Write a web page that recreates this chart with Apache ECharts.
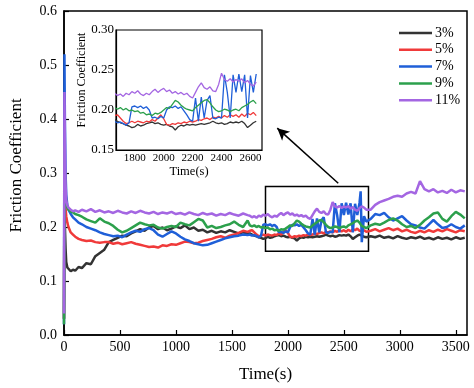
<!DOCTYPE html>
<html>
<head>
<meta charset="utf-8">
<script src="https://cdn.jsdelivr.net/npm/echarts@6/dist/echarts.min.js"></script>
<style>html,body{margin:0;padding:0;background:#fff;}#c{width:474px;height:388px;}</style>
</head>
<body>
<div id="c"></div>
<script>
// ---- data ----
const seriesNames = ['3%', '5%', '7%', '9%', '11%'];
const colors = ['#333333', '#f03a3a', '#1f5fd8', '#2ca04c', '#a466e2'];

const time = [
  0, 4, 8, 14, 20, 30, 40, 60, 80, 100, 130, 160, 200, 240, 280, 320, 360,
  400, 440, 480, 520, 560, 600, 640, 680, 720, 760, 800, 840, 880, 920, 960, 1000,
  1040, 1080, 1120, 1160, 1200, 1240, 1280, 1320, 1360, 1400, 1440, 1480, 1520, 1560, 1600, 1640,
  1660, 1680, 1700, 1720, 1740, 1760, 1780, 1800, 1820, 1840, 1860, 1880, 1900, 1920, 1940, 1960,
  1980, 2000, 2020, 2040, 2060, 2080, 2100, 2120, 2140, 2160, 2180, 2200, 2220, 2240, 2260, 2280,
  2300, 2320, 2340, 2360, 2380, 2400, 2420, 2440, 2460, 2480, 2500, 2520, 2540, 2560, 2580, 2600,
  2620, 2640, 2650, 2660, 2680, 2700,
  2740, 2780, 2820, 2860, 2900, 2940, 2980, 3020, 3060, 3100, 3140, 3180, 3220, 3260, 3300, 3340,
  3380, 3420, 3460, 3500, 3540, 3580
];

const cof3 = [
  0.03, 0.25, 0.2, 0.16, 0.135, 0.125, 0.122, 0.118, 0.121, 0.119, 0.126, 0.124, 0.133, 0.131, 0.146, 0.152, 0.158,
  0.172, 0.176, 0.18, 0.184, 0.183, 0.188, 0.192, 0.196, 0.193, 0.199, 0.202, 0.196, 0.199, 0.194, 0.197, 0.201,
  0.198, 0.203, 0.196, 0.199, 0.193, 0.195, 0.19, 0.193, 0.189, 0.192, 0.19, 0.194, 0.191, 0.188, 0.19, 0.188,
  0.188, 0.186, 0.184, 0.183, 0.181, 0.18, 0.178, 0.179, 0.182, 0.18, 0.181, 0.183, 0.184, 0.185, 0.183, 0.184,
  0.182, 0.181, 0.182, 0.18, 0.179, 0.175, 0.179, 0.181, 0.18, 0.182, 0.181, 0.182, 0.181, 0.182, 0.183, 0.182,
  0.183, 0.184, 0.186, 0.184, 0.183, 0.184, 0.182, 0.183, 0.185, 0.184, 0.185, 0.184, 0.186, 0.183, 0.178, 0.181,
  0.184, 0.186, 0.185, 0.184, 0.182, 0.181,
  0.183, 0.181, 0.184, 0.18, 0.182, 0.179, 0.183, 0.18, 0.178, 0.181, 0.179, 0.182, 0.178, 0.18, 0.177, 0.181,
  0.178, 0.18, 0.177, 0.181, 0.178, 0.18
];

const cof5 = [
  0.03, 0.3, 0.26, 0.235, 0.22, 0.208, 0.2, 0.19, 0.186, 0.182, 0.178, 0.176, 0.174, 0.175, 0.172, 0.171, 0.172,
  0.172, 0.169, 0.171, 0.168, 0.17, 0.172, 0.169, 0.167, 0.165, 0.163, 0.164, 0.162, 0.166, 0.165, 0.168, 0.167,
  0.17, 0.173, 0.172, 0.17, 0.171, 0.174, 0.176, 0.178, 0.181, 0.183, 0.18, 0.184, 0.186, 0.189, 0.193, 0.191,
  0.193, 0.194, 0.19, 0.186, 0.183, 0.184, 0.186, 0.184, 0.186, 0.185, 0.184, 0.186, 0.185, 0.188, 0.186, 0.19,
  0.194, 0.189, 0.182, 0.181, 0.183, 0.182, 0.184, 0.183, 0.185, 0.184, 0.186, 0.185, 0.186, 0.188, 0.187, 0.189,
  0.19, 0.188, 0.191, 0.19, 0.192, 0.19, 0.193, 0.191, 0.194, 0.192, 0.194, 0.191, 0.195, 0.192, 0.196, 0.194,
  0.197, 0.193, 0.195, 0.192, 0.194, 0.191,
  0.193, 0.196, 0.192, 0.195, 0.198, 0.194, 0.197, 0.192, 0.195, 0.191, 0.189, 0.193, 0.19, 0.194, 0.191, 0.195,
  0.192, 0.196, 0.193, 0.19, 0.194, 0.192
];

const cof7 = [
  0.02, 0.52, 0.4, 0.3, 0.26, 0.24, 0.232, 0.224, 0.218, 0.214, 0.208, 0.205, 0.2, 0.197, 0.194, 0.19, 0.187,
  0.185, 0.183, 0.184, 0.181, 0.186, 0.19, 0.193, 0.191, 0.196, 0.198, 0.194, 0.186, 0.182, 0.187, 0.192, 0.188,
  0.182, 0.177, 0.174, 0.17, 0.168, 0.166, 0.167, 0.17, 0.173, 0.176, 0.179, 0.181, 0.183, 0.184, 0.186, 0.185,
  0.186, 0.184, 0.185, 0.183, 0.181, 0.184, 0.204, 0.205, 0.203, 0.205, 0.202, 0.204, 0.2, 0.19, 0.191, 0.189,
  0.192, 0.19, 0.2, 0.204, 0.203, 0.205, 0.202, 0.204, 0.199, 0.194, 0.188, 0.186, 0.215, 0.186, 0.216, 0.19,
  0.212, 0.218, 0.19, 0.189, 0.191, 0.19, 0.244, 0.222, 0.19, 0.244, 0.222, 0.245, 0.223, 0.244, 0.19, 0.243,
  0.222, 0.245, 0.266, 0.172, 0.22, 0.21,
  0.215, 0.224, 0.222, 0.226, 0.218, 0.212, 0.216, 0.22, 0.212, 0.205, 0.203, 0.199, 0.197, 0.205, 0.213, 0.205,
  0.198, 0.2, 0.205, 0.2, 0.197, 0.203
];

const cof9 = [
  0.02, 0.35, 0.3, 0.26, 0.245, 0.236, 0.232, 0.229, 0.227, 0.224, 0.222, 0.219, 0.214, 0.211, 0.208, 0.216, 0.21,
  0.207, 0.202, 0.195, 0.19, 0.193, 0.198, 0.203, 0.208, 0.205, 0.203, 0.204, 0.199, 0.197, 0.2, 0.202, 0.2,
  0.208, 0.205, 0.203, 0.209, 0.215, 0.212, 0.199, 0.202, 0.198, 0.2, 0.203, 0.205, 0.21, 0.204, 0.2, 0.212,
  0.203, 0.201, 0.203, 0.2, 0.202, 0.199, 0.2, 0.198, 0.199, 0.196, 0.197, 0.194, 0.195, 0.193, 0.196, 0.195,
  0.197, 0.2, 0.203, 0.202, 0.207, 0.212, 0.21, 0.206, 0.203, 0.201, 0.2, 0.199, 0.203, 0.206, 0.209, 0.212,
  0.213, 0.209, 0.204, 0.2, 0.198, 0.199, 0.201, 0.2, 0.198, 0.2, 0.201, 0.199, 0.203, 0.205, 0.207, 0.21,
  0.212, 0.208, 0.205, 0.202, 0.2, 0.198,
  0.203, 0.206, 0.204, 0.208, 0.213, 0.216, 0.212, 0.205, 0.2, 0.202, 0.198, 0.204, 0.212, 0.218, 0.225, 0.227,
  0.215, 0.21, 0.22, 0.228, 0.223, 0.216
];

const cof11 = [
  0.04, 0.45, 0.36, 0.28, 0.25, 0.24, 0.236, 0.232, 0.229, 0.231, 0.228, 0.232, 0.229, 0.233, 0.228, 0.231, 0.227,
  0.229, 0.226, 0.23, 0.227, 0.225, 0.229, 0.226, 0.23, 0.227, 0.225, 0.228, 0.224, 0.227, 0.225, 0.228, 0.224,
  0.226, 0.223, 0.227, 0.224, 0.222, 0.226, 0.223, 0.225, 0.221, 0.224, 0.222, 0.226, 0.223, 0.221, 0.225, 0.222,
  0.221, 0.218, 0.22, 0.217, 0.221, 0.219, 0.223, 0.221, 0.224, 0.22, 0.218, 0.221, 0.219, 0.223, 0.226, 0.222,
  0.225, 0.227, 0.223, 0.225, 0.221, 0.223, 0.22, 0.222, 0.219, 0.221, 0.217, 0.215, 0.222, 0.229, 0.234, 0.228,
  0.226, 0.229, 0.224, 0.223, 0.232, 0.246, 0.238, 0.236, 0.239, 0.235, 0.238, 0.236, 0.239, 0.234, 0.237, 0.232,
  0.23, 0.235, 0.237, 0.238, 0.236, 0.232,
  0.232, 0.241, 0.246, 0.249, 0.252, 0.256, 0.258, 0.256, 0.262, 0.265, 0.262, 0.285, 0.27, 0.266, 0.27, 0.264,
  0.267, 0.263, 0.269, 0.264, 0.268, 0.266
];

const mainXMax = 3600;
const insetXTicks = [1800, 2000, 2200, 2400, 2600];
const zoomBox = [[1800, 0.155], [2720, 0.275]];
const arrowFromTo = [[2450, 0.281], [1905, 0.383]];
const insetDataEnd = 2645;

// ---- build ----
const allValues = [cof3, cof5, cof7, cof9, cof11];
const FONT = '"Liberation Serif", "Times New Roman", serif';

function pairs(vals, maxT) {
  const out = [];
  for (let i = 0; i < time.length; i++) {
    if (maxT === undefined || time[i] <= maxT) out.push([time[i], vals[i]]);
  }
  return out;
}

const series = [];
allValues.forEach((vals, k) => {
  series.push({
    name: seriesNames[k], type: 'line', xAxisIndex: 0, yAxisIndex: 0,
    data: pairs(vals), symbol: 'none', smooth: false,
    lineStyle: { color: colors[k], width: 2.5 }, itemStyle: { color: colors[k] },
    z: 2 + k, animation: false
  });
});
series.push({
  type: 'line', xAxisIndex: 0, yAxisIndex: 0, data: [], silent: true, animation: false,
  markArea: {
    silent: true,
    itemStyle: { color: 'rgba(0,0,0,0)', borderColor: '#000', borderWidth: 1.5 },
    data: [[{ coord: zoomBox[0] }, { coord: zoomBox[1] }]]
  },
  markLine: {
    silent: true, symbol: ['none', 'arrow'], symbolSize: [9, 12],
    lineStyle: { color: '#000', width: 1.5, type: 'solid' },
    label: { show: false },
    data: [[{ coord: arrowFromTo[0] }, { coord: arrowFromTo[1] }]]
  },
  z: 10
});
allValues.forEach((vals, k) => {
  series.push({
    name: seriesNames[k] + '_inset', type: 'line', xAxisIndex: 1, yAxisIndex: 1,
    data: pairs(vals, insetDataEnd), symbol: 'none',
    lineStyle: { color: colors[k], width: 1.3 }, itemStyle: { color: colors[k] },
    z: 20 + k, animation: false, clip: true
  });
});

const chart = echarts.init(document.getElementById('c'), null, { renderer: 'canvas' });
chart.setOption({
  backgroundColor: '#fff',
  animation: false,
  textStyle: { fontFamily: FONT },
  grid: [
    { left: 62, top: 11, right: 7, bottom: 50, show: true, borderColor: '#000', borderWidth: 1.5, backgroundColor: 'transparent' },
    { left: 116, top: 30, width: 146, height: 120, show: true, borderColor: '#000', borderWidth: 1.2, backgroundColor: '#fff', z: 15 }
  ],
  legend: {
    data: seriesNames, orient: 'vertical', left: 399, top: 26, padding: 0,
    icon: 'rect', itemWidth: 33, itemHeight: 2.5, itemGap: 2.8,
    textStyle: { fontFamily: FONT, fontSize: 14, color: '#000', lineHeight: 14, padding: [0, 0, 0, -2] }
  },
  xAxis: [
    {
      type: 'value', gridIndex: 0, min: 0, max: mainXMax, interval: 500,
      name: 'Time(s)', nameLocation: 'middle', nameGap: 31,
      nameTextStyle: { fontFamily: FONT, fontSize: 17, color: '#000' },
      axisLine: { show: true, lineStyle: { color: '#000', width: 1.5 } },
      axisTick: { show: true, inside: true, length: 5, lineStyle: { color: '#000', width: 1.2 } },
      axisLabel: { fontFamily: FONT, fontSize: 14, color: '#000', margin: 5, showMaxLabel: false,
        formatter: v => (v % 500 === 0 ? String(v) : '') },
      splitLine: { show: false }
    },
    {
      type: 'value', gridIndex: 1, min: 1670, max: 2680,
      name: 'Time(s)', nameLocation: 'middle', nameGap: 15,
      nameTextStyle: { fontFamily: FONT, fontSize: 12.5, color: '#000' },
      axisLine: { show: true, lineStyle: { color: '#000', width: 1.2 } },
      axisTick: { show: false, customValues: insetXTicks },
      axisLabel: { fontFamily: FONT, fontSize: 11, color: '#000', margin: 3, customValues: insetXTicks,
        formatter: v => String(v) },
      splitLine: { show: false }, z: 16
    }
  ],
  yAxis: [
    {
      type: 'value', gridIndex: 0, min: 0, max: 0.6, interval: 0.1,
      name: 'Friction Coefficient', nameLocation: 'middle', nameGap: 39, nameRotate: 90,
      nameTextStyle: { fontFamily: FONT, fontSize: 17, color: '#000', padding: [0, 0, 0, 15] },
      axisLine: { show: true, lineStyle: { color: '#000', width: 1.5 } },
      axisTick: { show: true, inside: true, length: 5, lineStyle: { color: '#000', width: 1.2 } },
      axisLabel: { fontFamily: FONT, fontSize: 14, color: '#000', margin: 7, formatter: v => v.toFixed(1) },
      splitLine: { show: false }
    },
    {
      type: 'value', gridIndex: 1, min: 0.15, max: 0.30, interval: 0.05,
      name: 'Friction Coefficient', nameLocation: 'middle', nameGap: 27, nameRotate: 90,
      nameTextStyle: { fontFamily: FONT, fontSize: 12, color: '#000', padding: [0, 0, 0, 20] },
      axisLine: { show: true, lineStyle: { color: '#000', width: 1.2 } },
      axisTick: { show: false },
      axisLabel: { fontFamily: FONT, fontSize: 13, color: '#000', margin: 2, formatter: v => v.toFixed(2) },
      splitLine: { show: false }, z: 16
    }
  ],
  series: series
});
</script>
</body>
</html>
